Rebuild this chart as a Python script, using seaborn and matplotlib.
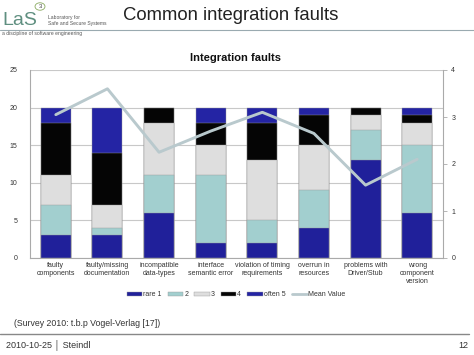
import matplotlib
matplotlib.use("Agg")
import matplotlib.pyplot as plt
import numpy as np
import pandas as pd
import seaborn as sns
from matplotlib.patches import Patch, Circle
from matplotlib.lines import Line2D

categories = ["faulty\ncomponents", "faulty/missing\ndocumentation", "incompatible\ndata-types",
              "interface\nsemantic error", "violation of timing\nrequirements", "overrun in\nresources",
              "problems with\nDriver/Stub", "wrong\ncomponent\nversion"]
rare1 = [3, 3, 6, 2, 2, 4, 13, 6]
level2 = [4, 1, 5, 9, 3, 5, 4, 9]
level3 = [4, 3, 7, 4, 8, 6, 2, 3]
level4 = [7, 7, 2, 3, 5, 4, 1, 1]
often5 = [2, 6, 0, 2, 2, 1, 0, 1]
mean_value = [3.05, 3.6, 2.25, 2.7, 3.1, 2.65, 1.55, 2.1]
series_names = ["rare 1", "2", "3", "4", "often 5"]
left_ticks = [0, 5, 10, 15, 20, 25]
right_ticks = [0, 1, 2, 3, 4]

sns.set_style("white")
plt.rcParams["font.family"] = ["Liberation Sans", "DejaVu Sans"]

colors = ["#20209a", "#a2cfcf", "#dedede", "#050505", "#2424a4"]
line_color = "#b9c9cd"

fig = plt.figure(figsize=(4.74, 3.55), dpi=100)
ax = fig.add_axes([30/474, 1-258/355, 413/474, 188/355])

df = pd.DataFrame({"cat": categories, "rare 1": rare1, "2": level2, "3": level3,
                   "4": level4, "often 5": often5})
cum = df[series_names].cumsum(axis=1)

for i in range(len(series_names) - 1, -1, -1):
    name = series_names[i]
    sns.barplot(x=df["cat"], y=cum[name], color=colors[i], saturation=1, width=0.58,
                ax=ax, edgecolor="#9a9a9a", linewidth=0.3, zorder=2)

ax.set_ylim(0, 25)
ax.set_xlim(-0.5, 7.5)
ax.set_yticks(left_ticks)
ax.set_yticklabels([str(t) for t in left_ticks], fontsize=5, color="#333333")
ax.tick_params(axis="y", length=0, pad=9)
ax.tick_params(axis="x", length=0, pad=3, labelsize=5, labelcolor="#333333")
ax.set_xlabel("")
ax.set_ylabel("")
ax.yaxis.grid(True, color="#c8c8c8", linewidth=0.8, zorder=0)
ax.set_axisbelow(True)
for s in ["left", "bottom"]:
    ax.spines[s].set_color("#aaaaaa")
    ax.spines[s].set_linewidth(0.8)
for s in ["top", "right"]:
    ax.spines[s].set_visible(False)

ax2 = ax.twinx()
sns.lineplot(x=np.arange(len(categories)), y=mean_value, ax=ax2, color=line_color,
             linewidth=2.1, zorder=5)
ax2.set_ylim(0, 4)
ax2.set_yticks(right_ticks)
ax2.set_yticklabels([str(t) for t in right_ticks], fontsize=5, color="#333333")
ax2.tick_params(axis="y", length=3, width=0.6, color="#aaaaaa", pad=3)
ax2.set_xlim(-0.5, 7.5)
for s in ["left", "bottom", "top"]:
    ax2.spines[s].set_visible(False)
ax2.spines["right"].set_color("#aaaaaa")
ax2.spines["right"].set_linewidth(0.8)
ax2.set_ylabel("")

handles = [Patch(facecolor=colors[i], edgecolor="#9a9a9a", linewidth=0.3, label=series_names[i])
           for i in range(5)]
handles.append(Line2D([0], [0], color=line_color, linewidth=2.0, label="Mean Value"))
fig.legend(handles=handles, loc="center", bbox_to_anchor=(236/474, 1-295/355), ncol=6,
           frameon=False, fontsize=5, handlelength=2.2, handleheight=0.6,
           handletextpad=0.15, columnspacing=0.9, labelcolor="#333333")

# chart title
fig.text(236/474, 1-58/355, "Integration faults", ha="center", va="center",
         fontsize=8, fontweight="bold", color="#111111")

# slide elements
fig.text(123/474, 1-15/355, "Common integration faults", ha="left", va="center",
         fontsize=13.3, color="#222222")
fig.add_artist(Line2D([0.0, 1.0], [1-29.5/355, 1-29.5/355], color="#9aaab0", linewidth=0.8))
fig.text(2/474, 1-20.5/355, "LaS", ha="left", va="center", fontsize=14, color="#5f8f80")
fig.add_artist(Circle((40/474, 1-6.5/355), 0.0105, transform=fig.transFigure,
                      facecolor="white", edgecolor="#8aaa60", linewidth=0.6))
fig.text(40/474, 1-6.5/355, "3", ha="center", va="center", fontsize=4.2, color="#444444")
fig.text(48/474, 1-18/355, "Laboratory for", ha="left", va="center", fontsize=3.6, color="#555555")
fig.text(48/474, 1-24/355, "Safe and Secure Systems", ha="left", va="center", fontsize=3.6, color="#555555")
fig.text(2/474, 1-33.5/355, "a discipline of software engineering", ha="left", va="center",
         fontsize=3.6, color="#555555")

fig.text(14/474, 1-323/355, "(Survey 2010: t.b.p Vogel-Verlag [17])", ha="left", va="center",
         fontsize=6.3, color="#333333")
fig.add_artist(Line2D([0.0, 0.99], [1-334/355, 1-334/355], color="#888888", linewidth=1.0))
fig.text(6/474, 1-345/355, "2010-10-25 \u2502 Steindl", ha="left", va="center",
         fontsize=6.5, color="#333333")
fig.text(468/474, 1-345/355, "12", ha="right", va="center", fontsize=6.5, color="#333333")

fig.savefig("out.png", dpi=100)
